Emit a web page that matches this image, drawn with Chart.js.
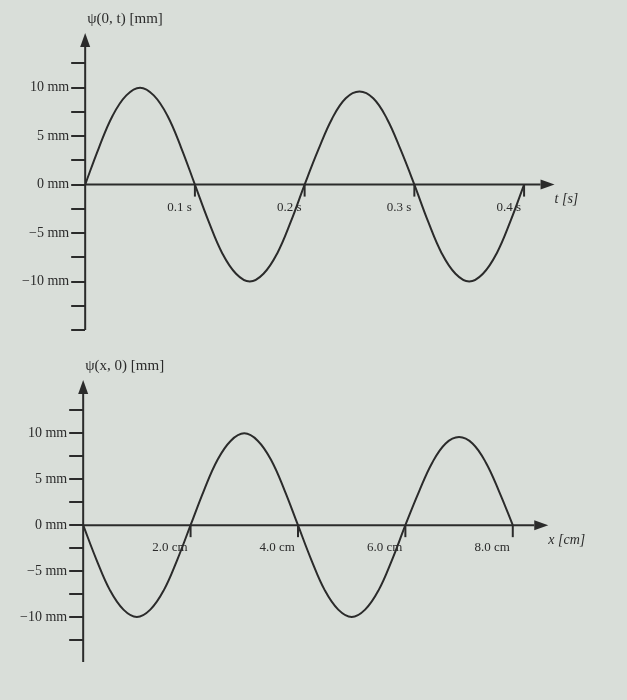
<!DOCTYPE html>
<html>
<head>
<meta charset="utf-8">
<script src="https://cdn.jsdelivr.net/npm/chart.js@4"></script>
<style>
  body { margin: 0; background: #d9ded9; }
  .box { position: relative; width: 627px; height: 350px; }
</style>
</head>
<body>
<div class="box"><canvas id="timeChart"></canvas></div>
<div class="box"><canvas id="spaceChart"></canvas></div>
<script>
// ---- Data ----
const timeValues = [0, 0.0125, 0.025, 0.0375, 0.05, 0.0625, 0.075, 0.0875, 0.1, 0.1125, 0.125, 0.1375, 0.15, 0.1625, 0.175, 0.1875, 0.2,
  0.2125, 0.225, 0.2375, 0.25, 0.2625, 0.275, 0.2875, 0.3, 0.3125, 0.325, 0.3375, 0.35, 0.3625, 0.375, 0.3875, 0.4];
const timeDisp = [0, 3.8, 7.1, 9.2, 10, 9.2, 7.1, 3.8, 0, -3.8, -7.1, -9.2, -10, -9.2, -7.1, -3.8, 0,
  3.6, 6.8, 8.9, 9.6, 8.9, 6.8, 3.6, 0, -3.8, -7.1, -9.2, -10, -9.2, -7.1, -3.8, 0];
const timeTicks = ["0.1 s", "0.2 s", "0.3 s", "0.4 s"];

const spaceValues = [0, 0.25, 0.5, 0.75, 1, 1.25, 1.5, 1.75, 2, 2.25, 2.5, 2.75, 3, 3.25, 3.5, 3.75, 4,
  4.25, 4.5, 4.75, 5, 5.25, 5.5, 5.75, 6, 6.25, 6.5, 6.75, 7, 7.25, 7.5, 7.75, 8];
const spaceDisp = [0, -3.8, -7.1, -9.2, -10, -9.2, -7.1, -3.8, 0, 3.8, 7.1, 9.2, 10, 9.2, 7.1, 3.8, 0,
  -3.8, -7.1, -9.2, -10, -9.2, -7.1, -3.8, 0, 3.6, 6.8, 8.9, 9.6, 8.9, 6.8, 3.6, 0];
const spaceTicks = ["2.0 cm", "4.0 cm", "6.0 cm", "8.0 cm"];

const yLabels = { 10: "10 mm", 5: "5 mm", 0: "0 mm", "-5": "\u22125 mm", "-10": "\u221210 mm" };
const ink = "#2b2b2b";
const font = "Liberation Serif";

// ---- Axis drawing plugin ----
function axesPlugin(title, xTitle, ticks, tickStep, arrowMax) {
  return {
    id: "axes",
    afterDraw(chart) {
      const ctx = chart.ctx;
      const x = chart.scales.x, y = chart.scales.y;
      const x0 = x.getPixelForValue(0), y0 = y.getPixelForValue(0);
      const yTop = y.getPixelForValue(y.max), yBot = y.getPixelForValue(y.min);
      const xEnd = x.getPixelForValue(arrowMax);
      ctx.save();
      ctx.strokeStyle = ink;
      ctx.fillStyle = ink;
      ctx.lineWidth = 2;
      // vertical axis + arrow
      ctx.beginPath(); ctx.moveTo(x0, yBot); ctx.lineTo(x0, yTop); ctx.stroke();
      ctx.beginPath(); ctx.moveTo(x0, yTop - 12); ctx.lineTo(x0 - 5, yTop + 2); ctx.lineTo(x0 + 5, yTop + 2); ctx.fill();
      // horizontal axis + arrow
      ctx.beginPath(); ctx.moveTo(x0, y0); ctx.lineTo(xEnd, y0); ctx.stroke();
      ctx.beginPath(); ctx.moveTo(xEnd + 14, y0); ctx.lineTo(xEnd, y0 - 5); ctx.lineTo(xEnd, y0 + 5); ctx.fill();
      // x ticks and labels
      ctx.font = "13px '" + font + "'";
      ctx.textBaseline = "top";
      ticks.forEach((t, i) => {
        const px = x.getPixelForValue((i + 1) * tickStep);
        ctx.beginPath(); ctx.moveTo(px, y0); ctx.lineTo(px, y0 + 12); ctx.stroke();
        ctx.textAlign = "right";
        ctx.fillText(t, px - 3, y0 + 16);
      });
      ctx.textAlign = "left";
      ctx.font = "italic 14px '" + font + "'";
      ctx.fillText(xTitle, xEnd + 14, y0 + 8);
      // y title
      ctx.font = "15px '" + font + "'";
      ctx.textBaseline = "bottom";
      ctx.fillText(title, x0 + 2, yTop - 18);
      ctx.restore();
    }
  };
}

function makeChart(id, xs, ys, xMax, arrowMax, yMin, yMax, title, xTitle, ticks, tickStep, pad) {
  return new Chart(document.getElementById(id), {
    type: "line",
    data: {
      labels: xs,
      datasets: [{
        data: xs.map((v, i) => ({ x: v, y: ys[i] })),
        borderColor: ink,
        borderWidth: 2,
        pointRadius: 0,
        tension: 0.4,
        fill: false
      }]
    },
    options: {
      responsive: true,
      maintainAspectRatio: false,
      animation: false,
      layout: { padding: pad },
      plugins: { legend: { display: false }, tooltip: { enabled: false } },
      scales: {
        x: { type: "linear", min: 0, max: xMax, display: false },
        y: {
          min: yMin, max: yMax,
          border: { display: false },
          grid: { drawOnChartArea: false, tickLength: 14, color: ink, lineWidth: 2 },
          afterBuildTicks(axis) {
            axis.ticks = axis.ticks.filter(t => Math.abs(t.value / 2.5 - Math.round(t.value / 2.5)) < 1e-6);
          },
          ticks: {
            stepSize: 2.5,
            color: ink,
            font: { family: font, size: 14 },
            padding: 2,
            callback: v => yLabels[v] || ""
          }
        }
      }
    },
    plugins: [axesPlugin(title, xTitle, ticks, tickStep, arrowMax)]
  });
}

makeChart("timeChart", timeValues, timeDisp, 0.43, 0.415, -15, 14.4,
  "\u03c8(0, t) [mm]", "t [s]", timeTicks, 0.1, { left: 20, top: 45, right: 70, bottom: 20 });
makeChart("spaceChart", spaceValues, spaceDisp, 8.6, 8.4, -14.9, 14.5,
  "\u03c8(x, 0) [mm]", "x [cm]", spaceTicks, 2, { left: 18, top: 42, right: 82, bottom: 38 });
</script>
</body>
</html>
